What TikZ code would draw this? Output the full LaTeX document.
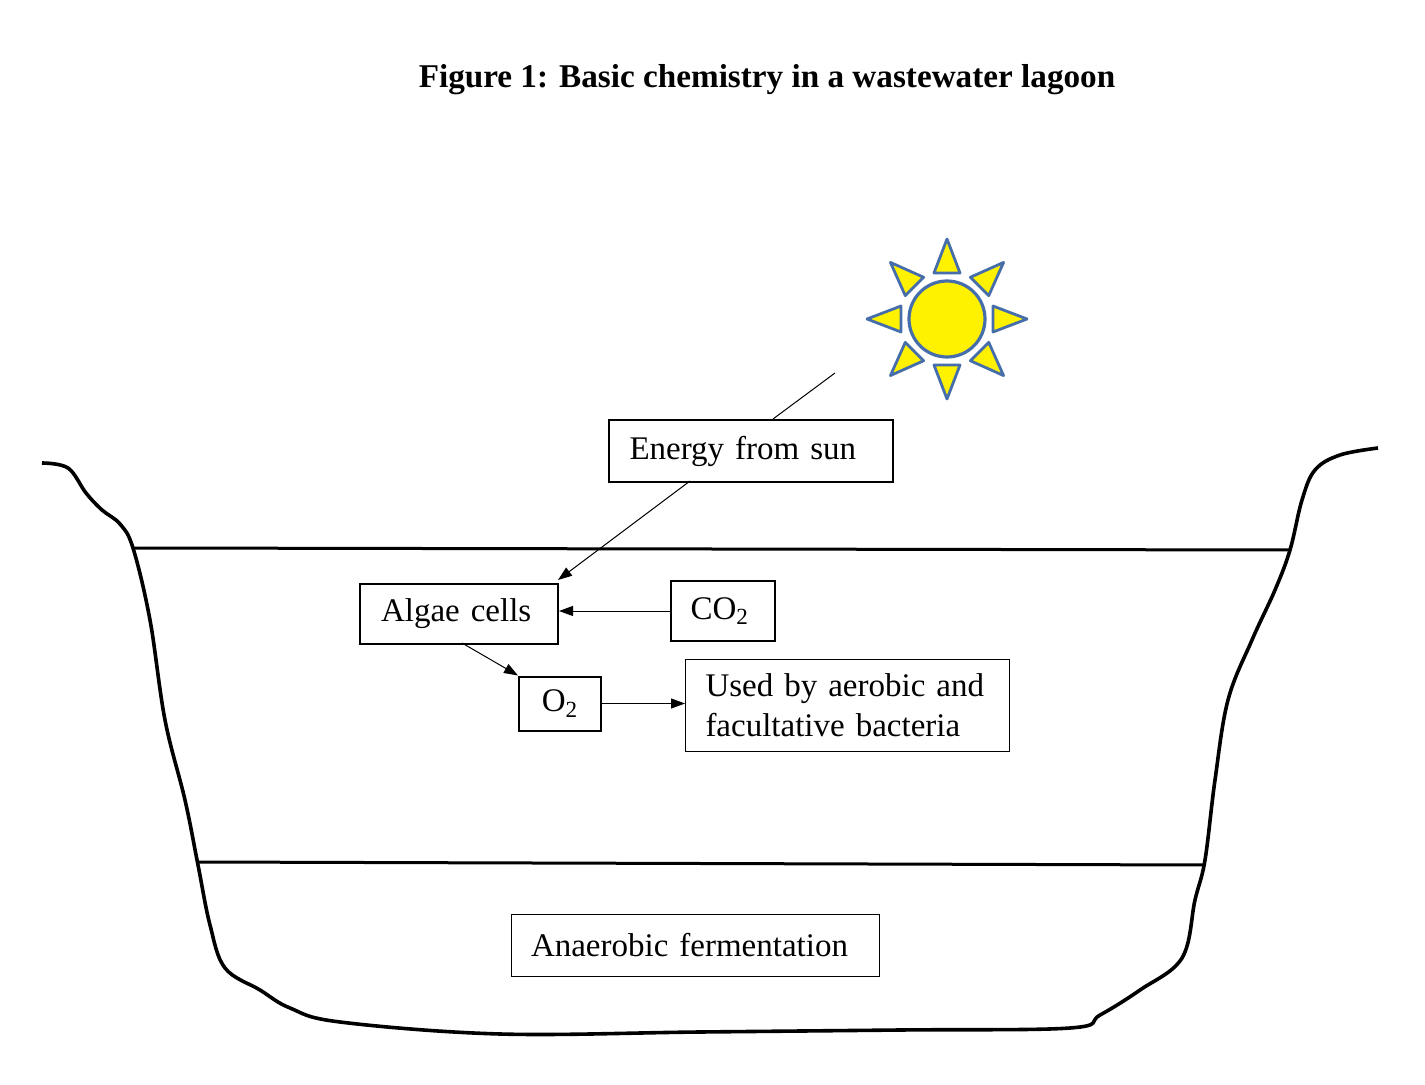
\documentclass[tikz,border=0pt]{standalone}
\usepackage{fontspec}
\setmainfont{Liberation Serif}
\usetikzlibrary{arrows.meta}
\definecolor{sunline}{RGB}{70,110,170}
\begin{document}
\begin{tikzpicture}[x=0.5pt,y=-0.5pt,
  bx/.style={draw,line width=1pt,minimum width=#1,minimum height=30pt,inner sep=0pt,font=\fontsize{16.5}{19}\selectfont},
  arr/.style={-{Triangle[length=7pt,width=5pt]},line width=0.5pt},
  ray/.style={fill=yellow,draw=sunline,line width=1.4pt,line join=round}]
\useasboundingbox (0,0) rectangle (1425,1085);
\node[font=\bfseries\fontsize{16.6}{19}\selectfont] (title) at (767,80) {Figure 1: Basic chemistry in a wastewater lagoon};
% lagoon
\draw[line width=1.8pt] plot[smooth,tension=0.6] coordinates {(42,463) (68,468) (86,493) (102,510) (120,524) (133,548) (150,620) (165,720) (185,800) (198,865) (210,925) (225,968) (260,990) (290,1008) (340,1022) (500,1034) (700,1032) (900,1030) (1070,1028) (1100,1015) (1140,990) (1182,958) (1195,900) (1205,860) (1215,780) (1228,700) (1252,640) (1275,590) (1290,550) (1302,500) (1315,470) (1340,455) (1378,448)};
\draw[line width=1.5pt] (133,548) -- (1290,550);
\draw[line width=1.5pt] (197,862) -- (1205,865);
% sun
\coordinate (sc) at (947,319);
\foreach \a in {0,45,...,315}{
  \draw[ray,shift={(sc)},rotate=\a] (0,-80) -- (-13,-46) -- (13,-46) -- cycle;}
\node[circle,fill=yellow,draw=sunline,line width=1.6pt,minimum size=38pt,inner sep=0pt] (sun) at (sc) {};
\coordinate (rayend) at (835,373);
% boxes
\node[bx=142pt,minimum height=31pt,text width=121pt,align=left] (energy) at (750.5,451) {Energy from sun};
\node[bx=99pt,text width=78pt,align=left] (algae) at (459,614) {Algae cells};
\node[bx=52pt,text width=32pt,align=left] (co2) at (722.5,611) {CO\textsubscript{2}};
\node[bx=41pt,minimum height=27pt] (o2) at (560,703.5) {O\textsubscript{2}};
\node[draw,line width=0.5pt,minimum width=162pt,minimum height=46pt,inner sep=0pt,text width=142pt,align=left,font=\fontsize{16.5}{20}\selectfont] (used) at (847.5,705) {Used by aerobic and\\facultative bacteria};
\node[draw,line width=0.5pt,minimum width=184pt,minimum height=31pt,inner sep=0pt,text width=164pt,align=left,font=\fontsize{16.5}{19}\selectfont] (anaer) at (695,945.5) {Anaerobic fermentation};
% connectors
\draw[line width=0.5pt] (rayend) -- (773,419);
\draw[arr] (690,481) -- (558,580);
\draw[arr] (co2.west) -- (algae.east |- co2.west);
\draw[arr] (462,643) -- (o2.north west);
\draw[arr] (o2.east) -- (used.west |- o2.east);
\end{tikzpicture}
\end{document}
